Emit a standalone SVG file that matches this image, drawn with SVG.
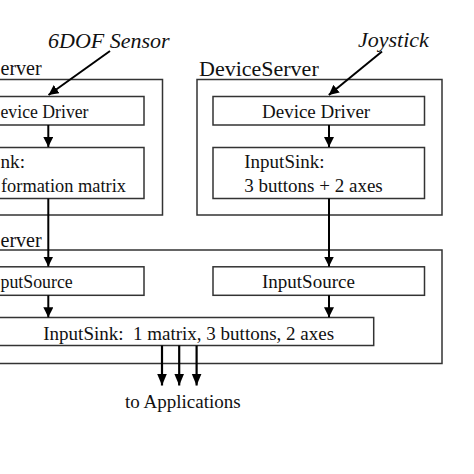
<svg xmlns="http://www.w3.org/2000/svg" width="474" height="474" viewBox="0 0 474 474">
<defs>
<marker id="ah" viewBox="0 0 10 10" refX="10" refY="5" markerWidth="10" markerHeight="10" markerUnits="userSpaceOnUse" orient="auto">
<path d="M0,0 L10,5 L0,10 z" fill="#000"/>
</marker>
<marker id="ahb" viewBox="0 0 12 10" refX="12" refY="5" markerWidth="12" markerHeight="11" markerUnits="userSpaceOnUse" orient="auto">
<path d="M0,0 L12,5 L0,10 z" fill="#000"/>
</marker>
</defs>
<style>
.box{fill:none;stroke:#333;stroke-width:1.5}
.t{font-family:"Liberation Serif","Times New Roman",serif;font-size:19px;fill:#111}
.big{font-family:"Liberation Serif","Times New Roman",serif;font-size:22px;fill:#111}
.it{font-family:"Liberation Serif","Times New Roman",serif;font-size:22px;font-style:italic;fill:#111}
.c{stroke:#000;stroke-width:2;fill:none;marker-end:url(#ah)}
.cb{stroke:#000;stroke-width:2.2;fill:none;marker-end:url(#ahb)}
</style>
<rect width="474" height="474" fill="#fff"/>

<g id="sensor-label"><text class="it" x="48" y="48">6DOF Sensor</text></g>
<g id="joystick-label"><text class="it" x="358" y="47">Joystick</text></g>

<g id="left-server">
<rect class="box" x="-84" y="79.5" width="246.5" height="135.5"/>
<text class="big" x="0.5" y="75" textLength="41.2" lengthAdjust="spacingAndGlyphs">erver</text>
</g>
<g id="left-driver">
<rect class="box" x="-68" y="96.5" width="212" height="28.5"/>
<text class="t" x="0.5" y="118.3" textLength="88" lengthAdjust="spacingAndGlyphs">evice Driver</text>
</g>
<g id="left-sink">
<rect class="box" x="-68" y="147.5" width="212" height="51"/>
<text class="t" x="0.5" y="168.3" textLength="24.5" lengthAdjust="spacingAndGlyphs">nk:</text>
<text class="t" x="1" y="191.7" textLength="125" lengthAdjust="spacingAndGlyphs">formation matrix</text>
</g>

<g id="right-server">
<rect class="box" x="197" y="79.5" width="245" height="135.5"/>
<text class="big" x="199" y="75.7">DeviceServer</text>
</g>
<g id="right-driver">
<rect class="box" x="213" y="96.5" width="211.5" height="28.5"/>
<text class="t" x="262" y="118.3">Device Driver</text>
</g>
<g id="right-sink">
<rect class="box" x="213" y="147.5" width="211.5" height="51"/>
<text class="t" x="244.3" y="168.3">InputSink:</text>
<text class="t" x="244.3" y="191.7">3 buttons + 2 axes</text>
</g>

<g id="input-server">
<rect class="box" x="-10" y="250" width="452" height="113.5"/>
<text class="big" x="0.5" y="246.7" textLength="41.2" lengthAdjust="spacingAndGlyphs">erver</text>
</g>
<g id="left-source">
<rect class="box" x="-68" y="266.8" width="212" height="28.5"/>
<text class="t" x="0.5" y="288.3" textLength="72.2" lengthAdjust="spacingAndGlyphs">putSource</text>
</g>
<g id="right-source">
<rect class="box" x="213" y="266.8" width="211.5" height="28.5"/>
<text class="t" x="262" y="288.3">InputSource</text>
</g>
<g id="merged-sink">
<rect class="box" x="-10" y="317.5" width="383.7" height="28"/>
<text class="t" x="43.3" y="340" xml:space="preserve">InputSink:  1 matrix, 3 buttons, 2 axes</text>
</g>
<g id="apps-label"><text class="t" x="125" y="408.3">to Applications</text></g>

<g id="connectors">
<line class="c" x1="110" y1="51" x2="48.5" y2="95"/>
<line class="c" x1="382" y1="51.5" x2="328.8" y2="95"/>
<line class="c" x1="48.3" y1="125" x2="48.3" y2="147"/>
<line class="c" x1="329" y1="125" x2="329" y2="147"/>
<line class="c" x1="48.3" y1="198.5" x2="48.3" y2="266.5"/>
<line class="c" x1="329" y1="198.5" x2="329" y2="266.5"/>
<line class="c" x1="48.3" y1="295.3" x2="48.3" y2="317.3"/>
<line class="c" x1="329" y1="295.3" x2="329" y2="317.3"/>
<line class="cb" x1="162" y1="345.5" x2="162" y2="385.5"/>
<line class="cb" x1="179.2" y1="345.5" x2="179.2" y2="385.5"/>
<line class="cb" x1="196.6" y1="345.5" x2="196.6" y2="385.5"/>
</g>
</svg>
